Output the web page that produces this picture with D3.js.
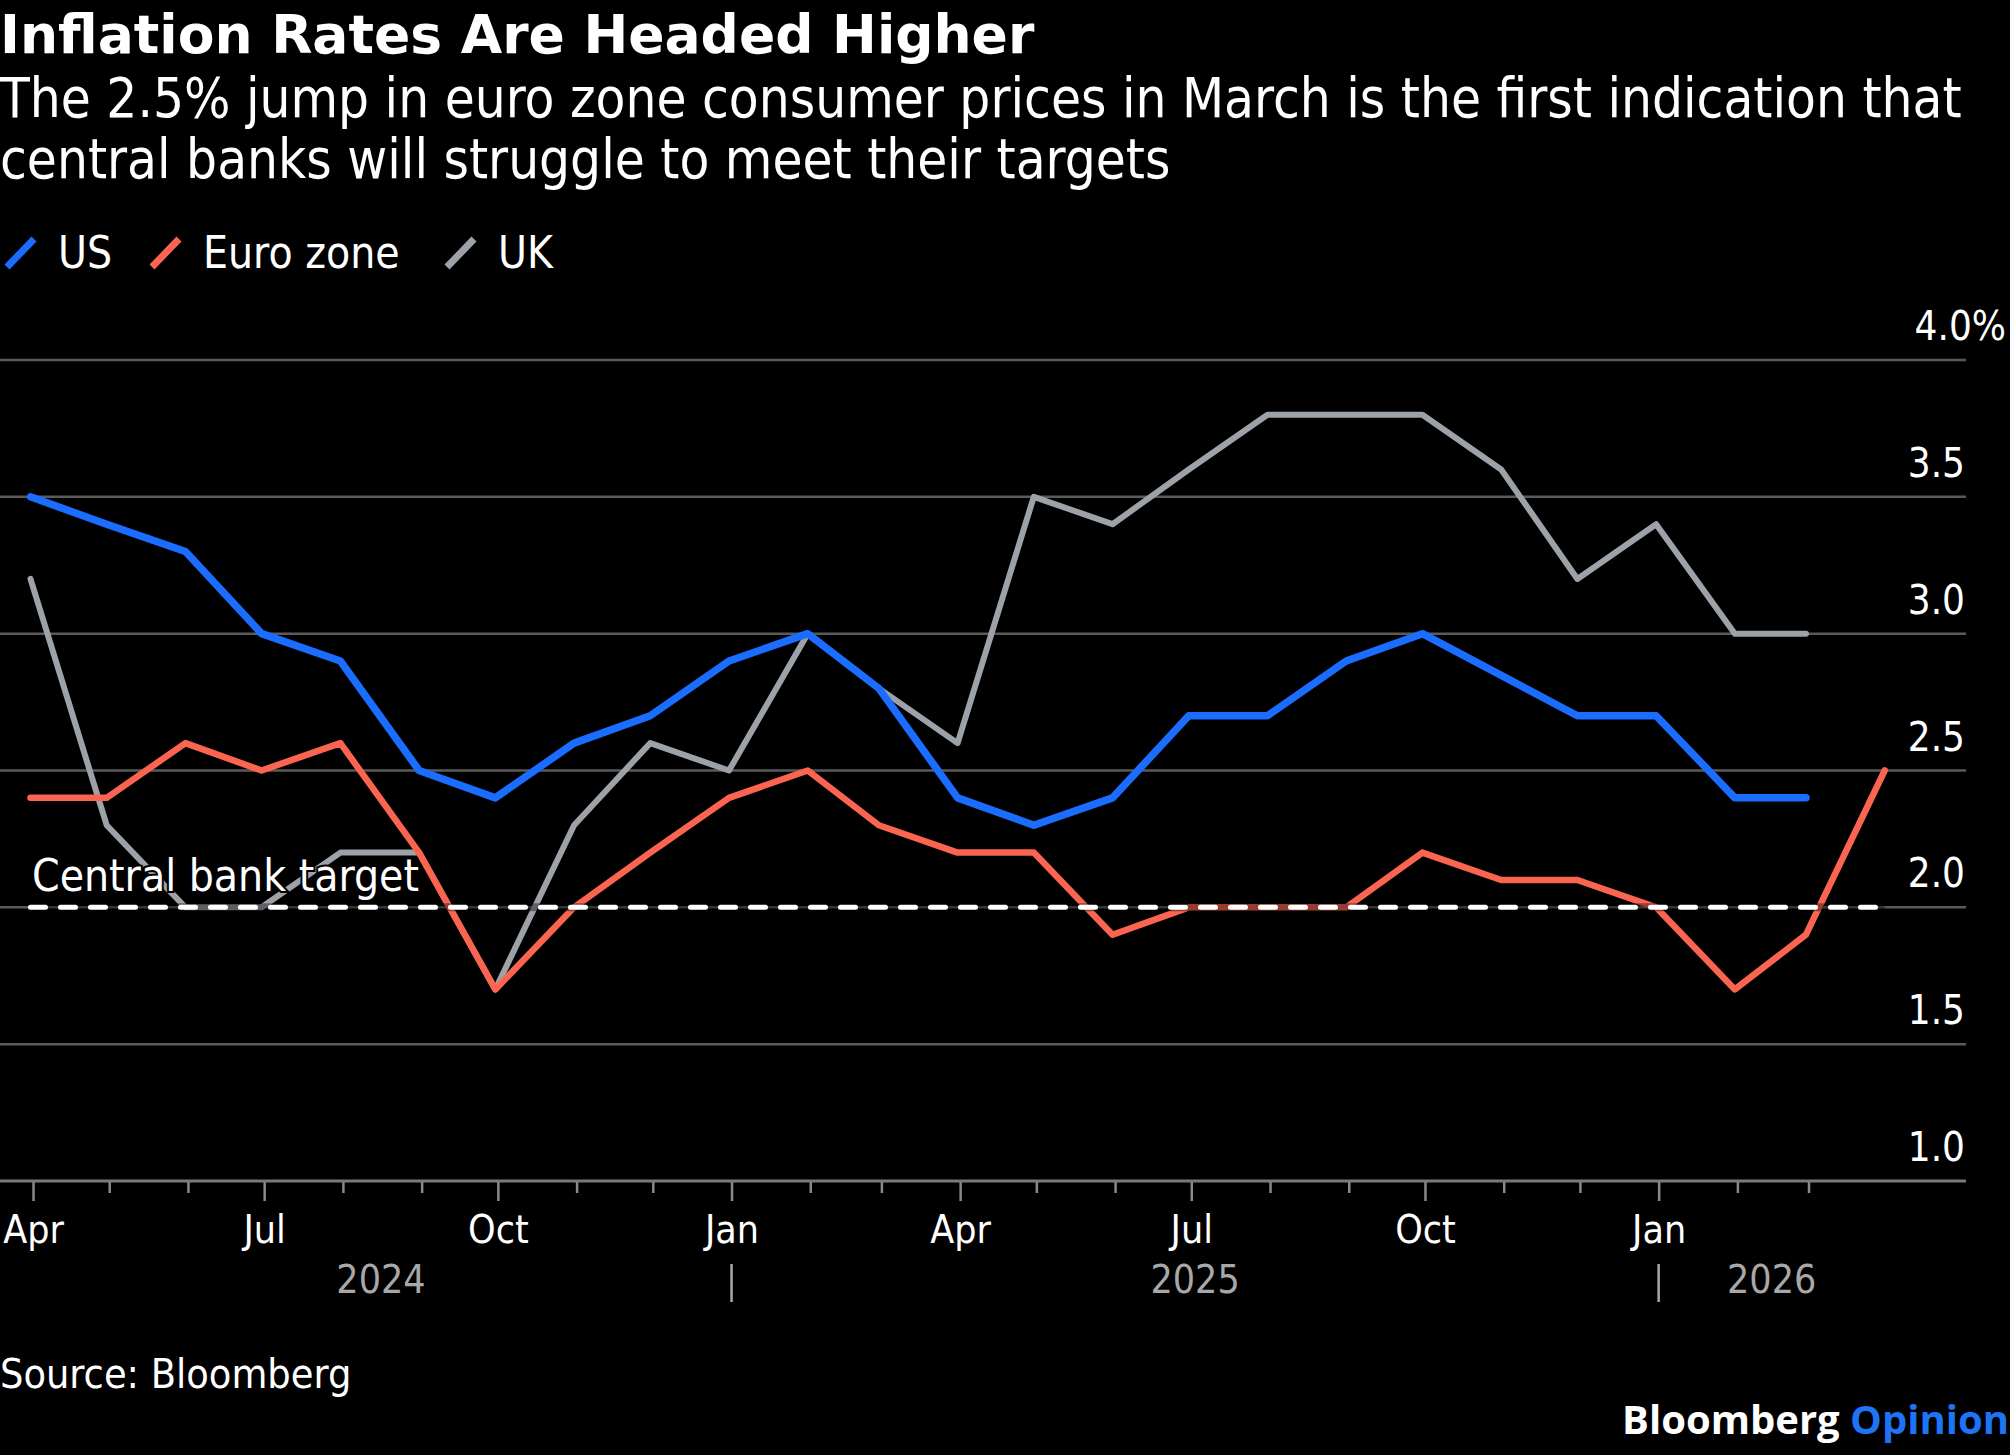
<!DOCTYPE html>
<html>
<head>
<meta charset="utf-8">
<script src="https://cdnjs.cloudflare.com/ajax/libs/d3/7.8.5/d3.min.js"></script>
<style>
  body { margin: 0; background: #000; }
  svg text { font-family: "DejaVu Sans", sans-serif; font-stretch: condensed; fill: #fff; }
</style>
</head>
<body>
<div id="chart"></div>
<script>
// month of each reading (plotted at the end of that month)
var months = ["2024-03","2024-04","2024-05","2024-06","2024-07","2024-08","2024-09","2024-10",
  "2024-11","2024-12","2025-01","2025-02","2025-03","2025-04","2025-05","2025-06","2025-07",
  "2025-08","2025-09","2025-10","2025-11","2025-12","2026-01","2026-02","2026-03"];

// year-over-year CPI, %  (US Oct 2025 was never published)
var usCpi   = [3.5,3.4,3.3,3.0,2.9,2.5,2.4,2.6,2.7,2.9,3.0,2.8,2.4,2.3,2.4,2.7,2.7,2.9,3.0,null,2.7,2.7,2.4,2.4,null];
var euroCpi = [2.4,2.4,2.6,2.5,2.6,2.2,1.7,2.0,2.2,2.4,2.5,2.3,2.2,2.2,1.9,2.0,2.0,2.0,2.2,2.1,2.1,2.0,1.7,1.9,2.5];
var ukCpi   = [3.2,2.3,2.0,2.0,2.2,2.2,1.7,2.3,2.6,2.5,3.0,2.8,2.6,3.5,3.4,3.6,3.8,3.8,3.8,3.6,3.2,3.4,3.0,3.0,null];

var seriesNames  = ["US", "Euro zone", "UK"];
var seriesColors = ["#1a6dff", "#fa6450", "#9da1a8"];
var yTicks = [1.0, 1.5, 2.0, 2.5, 3.0, 3.5, 4.0];
var targetRate = 2.0;

var width = 2010, height = 1455;

function monthEnd(s) {
  var p = s.split("-");
  return new Date(Date.UTC(+p[0], +p[1], 0));
}

var dates = months.map(monthEnd);

var series = [usCpi, euroCpi, ukCpi].map(function(vals, i) {
  return {
    name: seriesNames[i],
    color: seriesColors[i],
    values: vals.map(function(v, j) { return { date: dates[j], value: v }; })
               .filter(function(d) { return d.value !== null; })
  };
});

var svg = d3.select("#chart").append("svg")
  .attr("width", width)
  .attr("height", height)
  .style("background", "#000");

// header
svg.append("text")
  .attr("x", 0).attr("y", 53)
  .style("font-size", "53.5px").style("font-weight", "bold").style("font-stretch", "normal")
  .text("Inflation Rates Are Headed Higher");

var sub = ["The 2.5% jump in euro zone consumer prices in March is the first indication that",
           "central banks will struggle to meet their targets"];
svg.selectAll(".sub").data(sub).enter().append("text")
  .attr("class", "sub")
  .attr("x", 0)
  .attr("y", function(d, i) { return 117 + i * 61; })
  .style("font-size", "54.3px")
  .text(function(d) { return d; });

// legend
var legendX = [4, 149, 444];
var legend = svg.selectAll(".legend").data(series).enter().append("g")
  .attr("class", "legend")
  .attr("transform", function(d, i) { return "translate(" + legendX[i] + ",0)"; });
legend.append("line")
  .attr("x1", 3).attr("y1", 267).attr("x2", 30).attr("y2", 239)
  .attr("stroke", function(d) { return d.color; })
  .attr("stroke-width", 7);
legend.append("text")
  .attr("x", 54).attr("y", 268)
  .style("font-size", "44px")
  .text(function(d) { return d.name; });

// scales
var plotRight = 1966;
var x = d3.scaleUtc()
  .domain([new Date(Date.UTC(2024, 2, 19)), new Date(Date.UTC(2026, 4, 2))])
  .range([0, plotRight]);
var y = d3.scaleLinear()
  .domain([1, 4])
  .range([1181, 360]);

// gridlines
svg.selectAll(".grid").data(yTicks.slice(1)).enter().append("line")
  .attr("class", "grid")
  .attr("x1", 0).attr("x2", plotRight)
  .attr("y1", function(d) { return y(d); })
  .attr("y2", function(d) { return y(d); })
  .attr("stroke", "#5a5a5a")
  .attr("stroke-width", 2.5);

// y labels; the top one carries the unit and sits further right
var topTick = yTicks[yTicks.length - 1];
var ylab = svg.selectAll(".ylab").data(yTicks).enter().append("text")
  .attr("class", "ylab")
  .attr("x", function(d) { return d === topTick ? 2006 : plotRight - 1; })
  .attr("y", function(d) { return y(d) - 20; })
  .attr("text-anchor", "end")
  .style("font-size", "40px")
  .text(function(d) { return d.toFixed(1); });
ylab.filter(function(d) { return d === topTick; })
  .append("tspan")
  .style("font-family", "'Liberation Sans Narrow', 'DejaVu Sans', sans-serif")
  .text("%");

// x axis
var first = dates[0], last = dates[dates.length - 1];
var xAxis = d3.axisBottom(x)
  .tickValues(d3.utcMonth.range(d3.utcMonth.ceil(first), last))
  .tickSize(12)
  .tickFormat("");
var gx = svg.append("g")
  .attr("class", "x-axis")
  .attr("transform", "translate(0," + y(1) + ")")
  .call(xAxis);
gx.select(".domain").remove();
gx.selectAll(".tick line").attr("stroke", "#8a8a8a").attr("stroke-width", 2.5)
  .attr("y2", function(d) { return d.getUTCMonth() % 3 === 0 ? 20 : 12; });
gx.selectAll(".tick")
  .filter(function(d) { return d.getUTCMonth() % 3 === 0; })
  .append("text")
  .attr("y", 62)
  .attr("text-anchor", "middle")
  .style("font-size", "39px")
  .style("fill", "#fff")
  .text(d3.utcFormat("%b"));

svg.append("line")
  .attr("x1", 0).attr("x2", plotRight)
  .attr("y1", y(1)).attr("y2", y(1))
  .attr("stroke", "#7a7a7a")
  .attr("stroke-width", 3);

// year labels, centred on the part of each year that holds data
var years = d3.range(first.getUTCFullYear(), last.getUTCFullYear() + 1);
years.forEach(function(yr) {
  var a = new Date(Date.UTC(yr, 0, 1)), b = new Date(Date.UTC(yr + 1, 0, 1));
  var lo = a < first ? first : a, hi = b > last ? last : b;
  svg.append("text")
    .attr("x", (x(lo) + x(hi)) / 2)
    .attr("y", 1293)
    .attr("text-anchor", "middle")
    .style("font-size", "39px")
    .style("fill", "#a8a8a8")
    .text(yr);
  if (a > first) {
    svg.append("line")
      .attr("x1", x(a)).attr("x2", x(a))
      .attr("y1", 1264).attr("y2", 1302)
      .attr("stroke", "#a8a8a8").attr("stroke-width", 2.5);
  }
});

// lines, UK at the back, US in front
var line = d3.line()
  .x(function(d) { return x(d.date); })
  .y(function(d) { return y(d.value); });
var widths = { "US": 7.5, "Euro zone": 6.5, "UK": 6 };
svg.selectAll(".series").data(series.slice().reverse()).enter().append("path")
  .attr("class", "series")
  .attr("d", function(d) { return line(d.values); })
  .attr("fill", "none")
  .attr("stroke", function(d) { return d.color; })
  .attr("stroke-width", function(d) { return widths[d.name]; })
  .attr("stroke-linejoin", "round")
  .attr("stroke-linecap", "round");

// central bank target
svg.append("line")
  .attr("x1", x(first)).attr("x2", x(last))
  .attr("y1", y(targetRate)).attr("y2", y(targetRate))
  .attr("stroke", "#000").attr("stroke-opacity", 0.4)
  .attr("stroke-width", 8);
svg.append("line")
  .attr("x1", x(first)).attr("x2", x(last))
  .attr("y1", y(targetRate)).attr("y2", y(targetRate))
  .attr("stroke", "#fff")
  .attr("stroke-width", 5)
  .attr("stroke-linecap", "round")
  .attr("stroke-dasharray", "15,15");
svg.append("text")
  .attr("x", 32).attr("y", y(targetRate) - 16)
  .style("font-size", "44px")
  .style("stroke", "#000").style("stroke-width", 4).style("paint-order", "stroke")
  .text("Central bank target");

// footer
svg.append("text")
  .attr("x", 0).attr("y", 1388)
  .style("font-size", "41px")
  .text("Source: Bloomberg");

var logo = svg.append("text")
  .attr("x", 2009).attr("y", 1434)
  .attr("text-anchor", "end")
  .style("font-family", "'Open Sans', Lato, sans-serif")
  .style("font-stretch", "normal")
  .style("font-weight", "bold")
  .style("font-size", "40px");
logo.append("tspan").text("Bloomberg ");
logo.append("tspan").style("fill", "#1f73f5").text("Opinion");
</script>
</body>
</html>
